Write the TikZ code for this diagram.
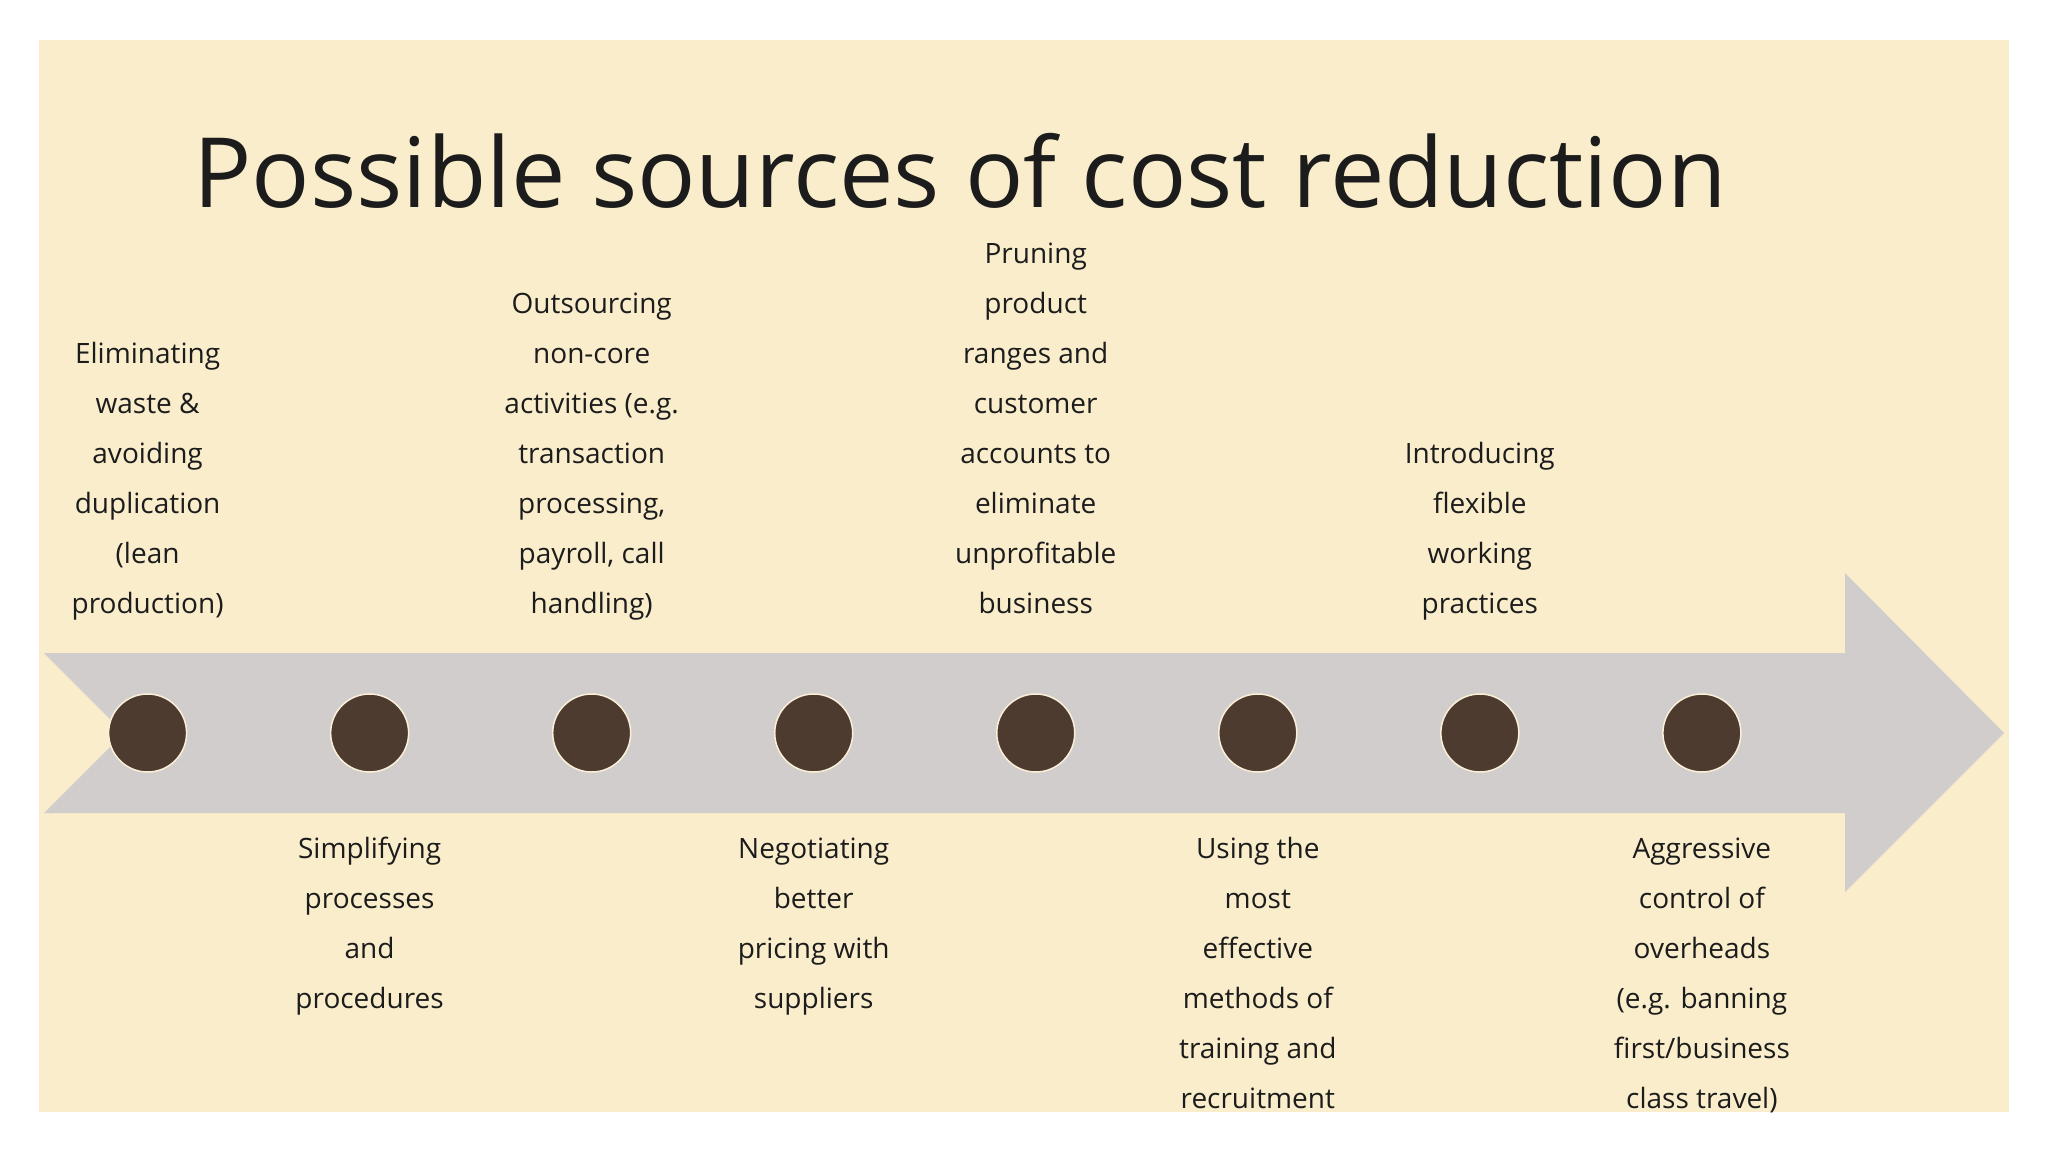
\documentclass[tikz,border=0pt]{standalone}
\usepackage{fontspec}
\setmainfont{Open Sans}
\definecolor{bgc}{RGB}{249,237,203}
\definecolor{arrowc}{RGB}{210,205,205}
\definecolor{dotc}{RGB}{78,59,48}
\definecolor{dotedge}{RGB}{250,240,215}
\definecolor{txt}{RGB}{28,28,28}
\tikzset{
  dot/.style={circle, fill=dotc, draw=dotedge, line width=1.5pt, minimum size=78pt, inner sep=0pt},
  lbl/.style={align=center, text=txt, inner sep=0pt, anchor=base, font={\fontsize{28pt}{50pt}\selectfont}},
  ttl/.style={text=txt, inner sep=0pt, anchor=base, font={\fontsize{97pt}{120pt}\selectfont}}
}
\begin{document}
\begin{tikzpicture}[x=1pt,y=-1pt]
\useasboundingbox (0,0) rectangle (2048,1152);
\fill[white] (0,0) rectangle (2048,1152);
\fill[bgc] (39,40) rectangle (2009,1112);
\fill[arrowc] (44,653) -- (1845,653) -- (1845,573) -- (2004,733) -- (1845,892) -- (1845,813) -- (44,813) -- (124,733) -- cycle;
\node[ttl] (title) at (960,207) {Possible sources of cost reduction};
\foreach \i in {1,...,8}{
  \node[dot] (c\i) at ({147.6+222.04*(\i-1)},733) {};
}
% top labels (anchor base = last line baseline)
\node[lbl] (t1) at (147.6,613) {Eliminating\\waste \&\\avoiding\\duplication\\(lean\\production)};
\node[lbl] (t3) at (591.7,613) {Outsourcing\\non-core\\activities (e.g.\\transaction\\processing,\\payroll, call\\handling)};
\node[lbl] (t5) at (1035.7,613) {Pruning\\product\\ranges and\\customer\\accounts to\\eliminate\\unprofitable\\business};
\node[lbl] (t7) at (1479.8,613) {Introducing\\flexible\\working\\practices};
% bottom labels (first baseline 858)
\node[lbl] (b2) at (369.6,1008) {Simplifying\\processes\\and\\procedures};
\node[lbl] (b4) at (813.7,1008) {Negotiating\\better\\pricing with\\suppliers};
\node[lbl] (b6) at (1257.8,1108) {Using the\\most\\effective\\methods of\\training and\\recruitment};
\node[lbl] (b8) at (1701.9,1108) {Aggressive\\control of\\overheads\\(e.g. banning\\first/business\\class travel)};
\end{tikzpicture}
\end{document}
